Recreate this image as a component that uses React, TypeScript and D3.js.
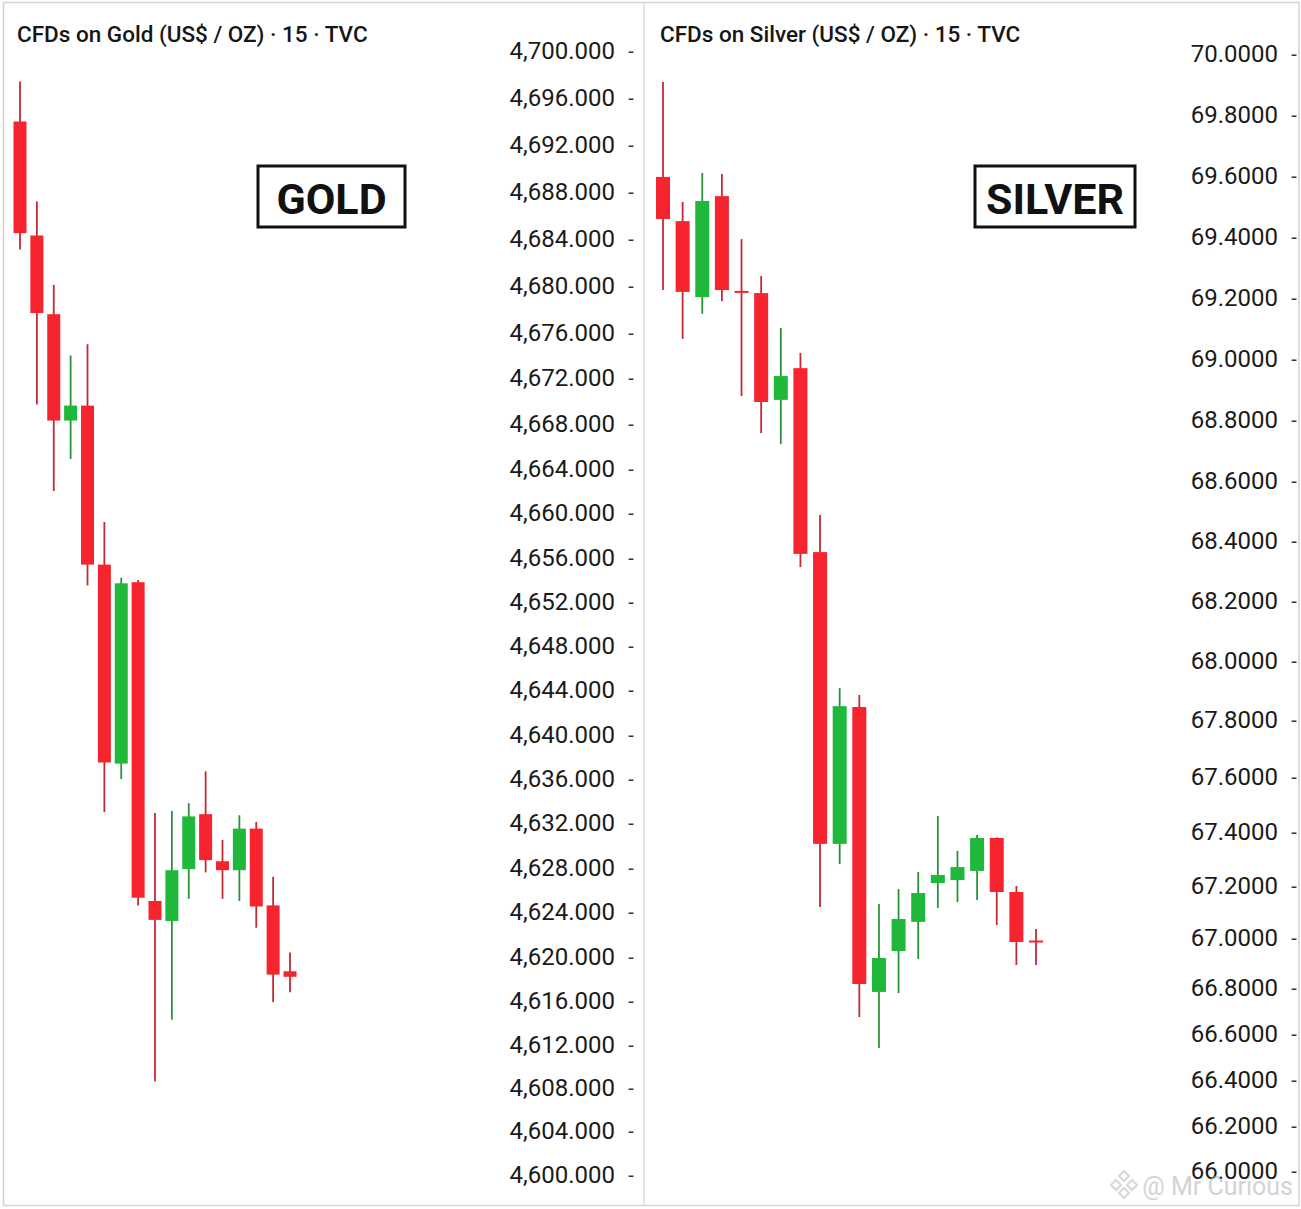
import { useEffect, useRef } from 'react';
import * as d3 from 'd3';

type Candle = { o: number; h: number; l: number; c: number };

// Gold, 15-minute candles (open, high, low, close)
const goldOpen = [4694.0, 4684.3, 4677.6, 4668.3, 4669.6, 4655.4, 4637.4, 4653.8, 4625.0, 4623.2, 4627.9, 4632.8, 4628.6, 4627.8, 4631.5, 4624.6, 4618.7];
const goldHigh = [4697.4, 4687.2, 4680.1, 4674.0, 4675.0, 4659.2, 4654.2, 4654.0, 4632.9, 4633.1, 4633.8, 4636.7, 4630.5, 4632.7, 4632.1, 4627.2, 4620.4];
const goldLow = [4683.1, 4669.7, 4662.0, 4664.9, 4653.5, 4633.0, 4636.0, 4624.6, 4608.6, 4614.3, 4625.2, 4627.6, 4625.2, 4625.0, 4622.6, 4615.9, 4616.8];
const goldClose = [4684.5, 4677.7, 4668.3, 4669.6, 4655.4, 4637.5, 4653.7, 4625.3, 4623.3, 4627.8, 4632.6, 4628.7, 4627.8, 4631.5, 4624.5, 4618.4, 4618.2];

// Silver, 15-minute candles
const silverOpen = [69.597, 69.452, 69.203, 69.534, 69.222, 69.216, 68.866, 68.970, 68.363, 67.356, 67.844, 66.783, 66.948, 67.062, 67.211, 67.222, 67.256, 67.378, 67.177, 66.988];
const silverHigh = [69.908, 69.515, 69.610, 69.607, 69.393, 69.272, 69.102, 69.020, 68.487, 67.908, 67.885, 67.131, 67.188, 67.252, 67.458, 67.330, 67.389, 67.380, 67.200, 67.035];
const silverLow = [69.226, 69.066, 69.148, 69.190, 68.879, 68.757, 68.721, 68.313, 67.119, 67.281, 66.674, 66.539, 66.778, 66.916, 67.115, 67.138, 67.146, 67.050, 66.892, 66.892];
const silverClose = [69.459, 69.220, 69.518, 69.226, 69.218, 68.859, 68.944, 68.357, 67.356, 67.847, 66.816, 66.920, 67.073, 67.173, 67.241, 67.270, 67.378, 67.177, 66.984, 66.984];

// Price axis tick values
const goldTicks = d3.range(4700, 4599, -4);
const silverTicks = d3.range(0, 21).map((i) => +(70 - i * 0.2).toFixed(1));

// Screen positions of the ticks (the screenshot's price scale is not quite linear)
const goldTickY = [51, 98, 145, 192, 239, 286, 333, 378, 424, 469, 513, 558, 602, 646, 690, 735, 779, 823, 868, 912, 957, 1001, 1045, 1088, 1131, 1175];
const silverTickY = [54, 115, 176, 237, 298, 359, 420, 481, 541, 601, 661, 720, 777, 832, 886, 938, 988, 1034, 1080, 1126, 1171];

const WIDTH = 1301;
const HEIGHT = 1209;
const FONT = 'Roboto, "Liberation Sans", sans-serif';
const UP = '#1fb83a';
const UP_WICK = '#2a9236';
const DOWN = '#f5242e';
const DOWN_WICK = '#c22a32';

const zip = (o: number[], h: number[], l: number[], c: number[]): Candle[] =>
  o.map((v, i) => ({ o: v, h: h[i], l: l[i], c: c[i] }));

interface PanelSpec {
  title: string;
  badge: string;
  candles: Candle[];
  ticks: number[];
  tickY: number[];
  format: (v: number) => string;
  firstX: number;
  lastX: number;
  bodyWidth: number;
  titleX: number;
  labelX: number;
  dashX: number;
  badgeBox: { x: number; y: number; w: number; h: number };
}

export default function App() {
  const svgRef = useRef<SVGSVGElement>(null);

  useEffect(() => {
    if (!svgRef.current) return;
    const svg = d3.select(svgRef.current);
    svg.selectAll('*').remove();

    svg.append('rect').attr('width', WIDTH).attr('height', HEIGHT).attr('fill', '#ffffff');

    const panels: PanelSpec[] = [
      {
        title: 'CFDs on Gold (US$ / OZ) · 15 · TVC',
        badge: 'GOLD',
        candles: zip(goldOpen, goldHigh, goldLow, goldClose),
        ticks: goldTicks,
        tickY: goldTickY,
        format: d3.format(',.3f'),
        firstX: 20,
        lastX: 290,
        bodyWidth: 13,
        titleX: 17,
        labelX: 615,
        dashX: 631,
        badgeBox: { x: 258, y: 166, w: 147, h: 61 },
      },
      {
        title: 'CFDs on Silver (US$ / OZ) · 15 · TVC',
        badge: 'SILVER',
        candles: zip(silverOpen, silverHigh, silverLow, silverClose),
        ticks: silverTicks,
        tickY: silverTickY,
        format: d3.format('.4f'),
        firstX: 663,
        lastX: 1036,
        bodyWidth: 14,
        titleX: 660,
        labelX: 1278,
        dashX: 1294,
        badgeBox: { x: 975, y: 166, w: 160, h: 61 },
      },
    ];

    panels.forEach((p) => {
      const g = svg.append('g');

      // Scales
      const x = d3.scaleLinear().domain([0, p.candles.length - 1]).range([p.firstX, p.lastX]);
      const y = d3.scaleLinear().domain(p.ticks).range(p.tickY);

      // Title
      g.append('text')
        .attr('x', p.titleX)
        .attr('y', 42)
        .attr('fill', '#161616')
        .attr('font-size', '22.5px')
        .attr('font-weight', '500')
        .attr('font-family', FONT)
        .text(p.title);

      // Price labels with dash ticks
      p.ticks.forEach((t) => {
        g.append('text')
          .attr('x', p.labelX)
          .attr('y', y(t))
          .attr('text-anchor', 'end')
          .attr('dominant-baseline', 'central')
          .attr('fill', '#1a1a1a')
          .attr('font-size', '24px')
          .attr('font-family', FONT)
          .text(p.format(t));

        g.append('text')
          .attr('x', p.dashX)
          .attr('y', y(t))
          .attr('text-anchor', 'middle')
          .attr('dominant-baseline', 'central')
          .attr('fill', '#333')
          .attr('font-size', '20px')
          .attr('font-family', FONT)
          .text('-');
      });

      // Badge
      const b = p.badgeBox;
      g.append('rect')
        .attr('x', b.x)
        .attr('y', b.y)
        .attr('width', b.w)
        .attr('height', b.h)
        .attr('fill', '#fff')
        .attr('stroke', '#111')
        .attr('stroke-width', 3);
      g.append('text')
        .attr('x', b.x + b.w / 2)
        .attr('y', b.y + b.h / 2 + 2)
        .attr('text-anchor', 'middle')
        .attr('dominant-baseline', 'central')
        .attr('fill', '#111')
        .attr('font-size', '43px')
        .attr('font-weight', '700')
        .attr('font-family', FONT)
        .text(p.badge);

      // Candles
      p.candles.forEach((d, i) => {
        const up = d.c > d.o;
        const cx = x(i);
        g.append('line')
          .attr('x1', cx)
          .attr('x2', cx)
          .attr('y1', y(d.h))
          .attr('y2', y(d.l))
          .attr('stroke', up ? UP_WICK : DOWN_WICK)
          .attr('stroke-width', 1.8);

        const top = y(Math.max(d.o, d.c));
        const bottom = y(Math.min(d.o, d.c));
        const h = Math.max(bottom - top, 2);
        g.append('rect')
          .attr('x', cx - p.bodyWidth / 2)
          .attr('y', h === 2 ? (top + bottom) / 2 - 1 : top)
          .attr('width', p.bodyWidth)
          .attr('height', h)
          .attr('fill', up ? UP : DOWN);
      });
    });

    // Frame and divider
    svg.append('rect')
      .attr('x', 3.5)
      .attr('y', 2.5)
      .attr('width', 1295.5)
      .attr('height', 1203)
      .attr('fill', 'none')
      .attr('stroke', '#d4d4d4')
      .attr('stroke-width', 1.5);
    svg.append('line')
      .attr('x1', 644)
      .attr('x2', 644)
      .attr('y1', 2.5)
      .attr('y2', 1205.5)
      .attr('stroke', '#dcdcdc')
      .attr('stroke-width', 1.5);

    // Watermark
    const wm = svg.append('g').attr('opacity', 0.55);
    const icon = wm.append('g').attr('transform', 'translate(1124,1185)');
    [
      [0, -9],
      [-8, 0],
      [8, 0],
      [0, 8],
    ].forEach(([dx, dy]) => {
      icon.append('path')
        .attr('d', `M${dx},${dy - 5}L${dx + 5},${dy}L${dx},${dy + 5}L${dx - 5},${dy}Z`)
        .attr('fill', 'none')
        .attr('stroke', '#b8b8b8')
        .attr('stroke-width', 2);
    });
    wm.append('text')
      .attr('x', 1293)
      .attr('y', 1195)
      .attr('text-anchor', 'end')
      .attr('fill', '#b0b0b0')
      .attr('font-size', '25px')
      .attr('font-family', FONT)
      .text('@ Mr Curious');
  }, []);

  return (
    <div style={{ position: 'absolute', left: 0, top: 0 }}>
      <svg ref={svgRef} width={WIDTH} height={HEIGHT} style={{ display: 'block' }} />
    </div>
  );
}
